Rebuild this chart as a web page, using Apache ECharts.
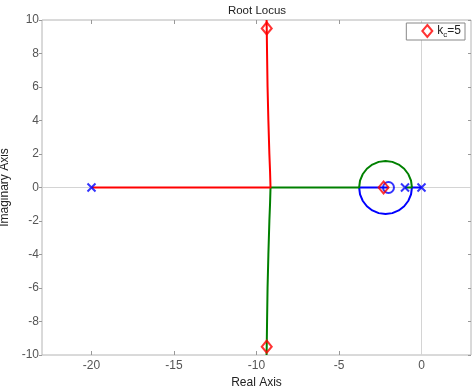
<!DOCTYPE html>
<html>
<head>
<meta charset="utf-8">
<script src="https://cdn.jsdelivr.net/npm/echarts@6/dist/echarts.min.js"></script>
<style>html,body{margin:0;padding:0;background:#fff}#c{width:474px;height:387px}</style>
</head>
<body>
<div id="c"></div>
<script>
// Open-loop poles and zero
const openPoles = [[-20, 0], [-1, 0], [0, 0]];
const openZeros = [[-2, 0]];
// Closed-loop poles at k_c = 5
const closedPoles = [[-2.3, 0], [-9.38, 9.5], [-9.38, -9.5]];
// Branch 1 (blue): pole 0 -> breakaway -> lower circle -> zero
const branchBlue = [[0, 0], [-0.58, 0], [-0.634, -0.41], [-0.794, -0.79], [-1.049, -1.12], [-1.38, -1.37],
  [-1.766, -1.53], [-2.18, -1.58], [-2.594, -1.53], [-2.98, -1.37], [-3.311, -1.12], [-3.566, -0.79],
  [-3.726, -0.41], [-3.78, 0], [-2, 0]];
// Branch 2 (green): pole -1 -> breakaway -> upper circle -> real axis -> down
const branchGreen = [[-1, 0], [-0.58, 0], [-0.634, 0.41], [-0.794, 0.79], [-1.049, 1.12], [-1.38, 1.37],
  [-1.766, 1.53], [-2.18, 1.58], [-2.594, 1.53], [-2.98, 1.37], [-3.311, 1.12], [-3.566, 0.79],
  [-3.726, 0.41], [-3.78, 0], [-9.15, 0], [-9.18, -1], [-9.22, -2], [-9.28, -4], [-9.33, -6],
  [-9.36, -8], [-9.38, -9.5], [-9.39, -10]];
// Branch 3 (red): pole -20 -> breakaway -> up
const branchRed = [[-20, 0], [-9.15, 0], [-9.18, 1], [-9.22, 2], [-9.28, 4], [-9.33, 6],
  [-9.36, 8], [-9.38, 9.5], [-9.39, 10]];
const xTicks = [-20, -15, -10, -5, 0];

const FONT = 'Liberation Sans, Arial, sans-serif';
const frame = '#b4b4b4';
const txt = '#555';
const xMark = 'path://M0,0L10,10M10,0L0,10';

const chart = echarts.init(document.getElementById('c'));
chart.setOption({
  animation: false,
  backgroundColor: '#fff',
  title: { text: 'Root Locus', left: 252, textAlign: 'center', top: 0,
    textStyle: { fontFamily: FONT, fontSize: 11.5, fontWeight: 'normal', color: '#222' } },
  grid: { left: 42, right: 3, top: 20, bottom: 32, show: true, borderColor: frame, borderWidth: 1,
    containLabel: false, outerBoundsMode: 'none' },
  legend: {
    right: 9, top: 23, orient: 'vertical', itemWidth: 10, itemHeight: 12, itemGap: 4,
    padding: [1, 4, 1, 15],
    backgroundColor: '#fff', borderColor: '#888', borderWidth: 1, borderRadius: 0,
    data: [{ name: 'kc', icon: 'diamond',
      itemStyle: { color: '#fff', borderColor: '#ff0000', borderWidth: 2 } }],
    formatter: () => '{a|k}{b|c}{a|=5}',
    textStyle: { fontFamily: FONT, color: '#222', rich: {
      a: { fontFamily: FONT, fontSize: 12, color: '#222' },
      b: { fontFamily: FONT, fontSize: 8, color: '#222', padding: [8, 0, 0, 0] } } }
  },
  xAxis: [{
    type: 'value', min: -23, max: 3, position: 'bottom',
    name: 'Real Axis', nameLocation: 'middle', nameGap: 20,
    nameTextStyle: { fontFamily: FONT, fontSize: 12, color: '#222' },
    axisLine: { show: false, onZero: false },
    axisTick: { show: true, inside: true, length: 4, lineStyle: { color: '#999' }, customValues: xTicks },
    axisLabel: { fontFamily: FONT, fontSize: 12, color: txt, margin: 5, customValues: xTicks },
    splitLine: { show: false }
  }, {
    type: 'value', min: -23, max: 3, position: 'top',
    axisLine: { show: false, onZero: false },
    axisTick: { show: true, inside: true, length: 4, lineStyle: { color: '#999' }, customValues: xTicks },
    axisLabel: { show: false, customValues: xTicks },
    splitLine: { show: false }
  }],
  yAxis: [{
    type: 'value', min: -10, max: 10, interval: 2, position: 'left',
    name: 'Imaginary Axis', nameLocation: 'middle', nameGap: 26, nameRotate: 90,
    nameTextStyle: { fontFamily: FONT, fontSize: 12, color: '#222' },
    axisLine: { show: false, onZero: false },
    axisTick: { show: true, inside: false, length: 3, lineStyle: { color: '#999' } },
    axisLabel: { fontFamily: FONT, fontSize: 12, color: txt, margin: 3 },
    splitLine: { show: false }
  }, {
    type: 'value', min: -10, max: 10, interval: 2, position: 'right',
    axisLine: { show: false, onZero: false },
    axisTick: { show: true, inside: true, length: 3, lineStyle: { color: '#999' } },
    axisLabel: { show: false },
    splitLine: { show: false }
  }],
  series: [
    { type: 'line', data: [], silent: true, z: 1,
      markLine: { symbol: 'none', silent: true, label: { show: false }, z: 1,
        lineStyle: { color: '#d4d4d4', width: 1, type: 'solid' },
        data: [{ xAxis: 0 }, { yAxis: 0 }] } },
    { name: 'b1', type: 'line', data: branchBlue, showSymbol: false, lineStyle: { color: '#0000ff', width: 2 }, z: 3 },
    { name: 'b2', type: 'line', data: branchGreen, showSymbol: false, lineStyle: { color: '#008000', width: 2 }, z: 3 },
    { name: 'b3', type: 'line', data: branchRed, showSymbol: false, lineStyle: { color: '#ff0000', width: 2 }, z: 3 },
    { name: 'poles', type: 'scatter', data: openPoles, symbol: xMark, symbolSize: 8,
      itemStyle: { color: 'none', borderColor: '#0000ff', borderWidth: 2 }, z: 4 },
    { name: 'zeros', type: 'scatter', data: openZeros, symbol: 'circle', symbolSize: 11,
      itemStyle: { color: 'none', borderColor: '#0000ff', borderWidth: 2 }, z: 4 },
    { name: 'kc', type: 'scatter', data: closedPoles, symbol: 'diamond', symbolSize: [10, 12],
      itemStyle: { color: 'none', borderColor: '#ff0000', borderWidth: 2 }, z: 5 }
  ]
});
</script>
</body>
</html>
